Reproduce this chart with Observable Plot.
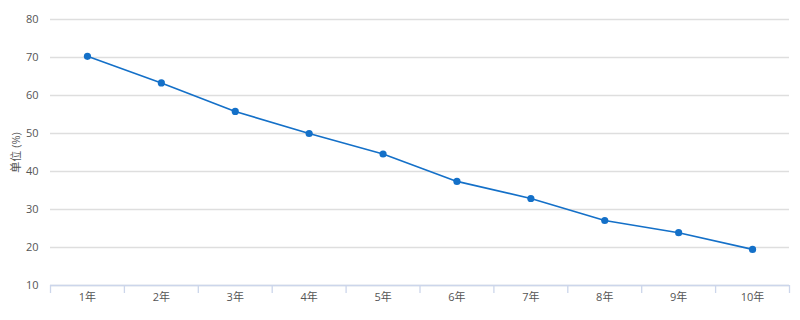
<!DOCTYPE html>
<html>
<head>
<meta charset="utf-8">
<script src="https://cdn.jsdelivr.net/npm/d3@7"></script>
<script src="https://cdn.jsdelivr.net/npm/@observablehq/plot@0.6"></script>
<style>
  html, body { margin: 0; padding: 0; background: #fff; }
  #chart svg { display: block; }
</style>
</head>
<body>
<div id="chart"></div>
<script>
const categories = ["1年", "2年", "3年", "4年", "5年", "6年", "7年", "8年", "9年", "10年"];
const values = [70.3, 63.3, 55.8, 50.0, 44.6, 37.4, 32.9, 27.1, 23.9, 19.5];
const yTicks = [10, 20, 30, 40, 50, 60, 70, 80];
const yLabel = "单位 (%)";

const data = categories.map((c, i) => ({idx: i + 1, cat: c, value: values[i]}));
const boundaries = d3.range(0, categories.length + 1).map(i => i + 0.5);
const centers = categories.map((c, i) => i + 1);

const font = "'Open Sans', 'Noto Sans CJK SC', sans-serif";

const chart = Plot.plot({
  width: 800,
  height: 320,
  marginLeft: 50,
  marginRight: 11,
  marginTop: 19,
  marginBottom: 35,
  style: {fontFamily: font, fontSize: "11px", color: "#555", background: "#fff"},
  x: {domain: [0.5, categories.length + 0.5]},
  y: {domain: [10, 80]},
  marks: [
    Plot.ruleY(yTicks, {stroke: "#dedede", strokeWidth: 1.5}),
    Plot.ruleY([10], {stroke: "#ccd6eb", strokeWidth: 1.5}),
    Plot.axisY({ticks: yTicks, tickSize: 0, tickPadding: 12, label: yLabel, labelAnchor: "center", labelOffset: 38, labelArrow: "none", fill: "#555"}),
    Plot.axisX({ticks: boundaries, tickSize: 8, tickFormat: () => "", stroke: "#ccd6eb", strokeWidth: 1.3, label: null}),
    Plot.axisX({ticks: centers, tickSize: 0, tickPadding: 8, tickFormat: i => categories[i - 1], label: null, fill: "#555"}),
    Plot.line(data, {x: "idx", y: "value", stroke: "#1470c8", strokeWidth: 1.6}),
    Plot.dot(data, {x: "idx", y: "value", r: 3.6, fill: "#1470c8", stroke: "none"})
  ]
});
document.getElementById("chart").appendChild(chart);
</script>
</body>
</html>
